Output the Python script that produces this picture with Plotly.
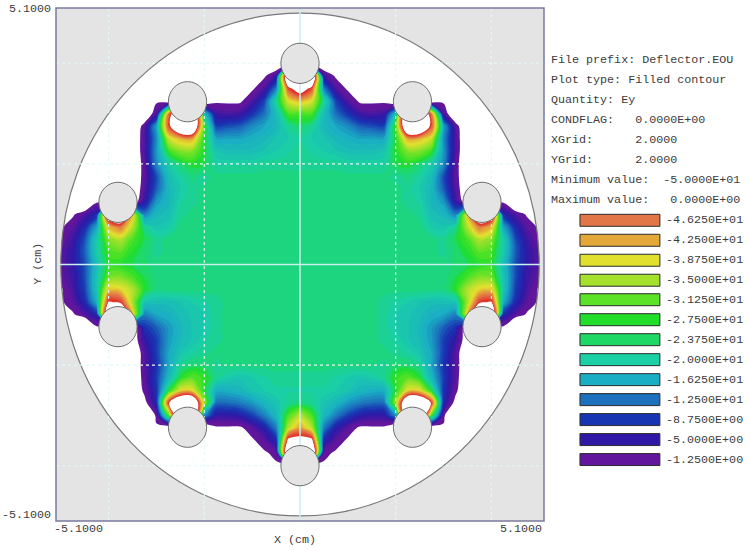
import plotly.graph_objects as go
import math

WIDTH, HEIGHT = 750, 550
LEFT, RIGHT, TOP, BOTTOM = 55.5, 544.0, 7.5, 521.0

# Ey field (V/cm) on a 0.25 cm mesh, sampled for x >= 0 and mirrored about x = 0.
x_half = [i * 0.25 for i in range(22)]
y_rows = [5.25 - i * 0.25 for i in range(43)]
W = [9] * 22
ey_upper = [
    W, W, W, W, W,
    [5, 5, 5] + [9] * 19,
    [-70, -70, -5, 0] + [9] * 18,
    [-60, -50, -14, -4, 0] + [9] * 17,
    [-42, -38, -24, -10, -4, 0, 0, 0, 5, 5, 5, 5, 0] + [9] * 9,
    [-30, -30, -20, -13, -9, -5, -4, -5, -20, -70, -70, -46, -4, 5] + [9] * 8,
    [-26, -24, -19, -17, -15, -12, -11, -10, -30, -70, -70, -50, -17, -3, 5] + [9] * 7,
    [-23, -22, -21, -19, -18, -17, -17, -17, -28, -43, -42, -37, -15, -4, 5] + [9] * 7,
    [-24, -23, -22, -21, -20, -20, -20, -21, -28, -33, -33, -29, -16, -4, 5] + [9] * 7,
    [-24, -24, -24, -24, -23, -23, -23, -23, -27, -28, -26, -22, -15, -3, 5] + [9] * 7,
    [-25] * 8 + [-24, -25, -23, -20, -11, -3, 5] + [9] * 7,
    [-25] * 9 + [-24, -22, -19, -12, -4, 5, 5, 5] + [9] * 5,
    [-25] * 9 + [-24, -23, -19, -16, -6, 3, 5, 5, 0] + [9] * 4,
    [-25] * 10 + [-24, -20, -19, -14, -40, -70, -60, -8, -4, 0, 9, 9],
    [-25] * 11 + [-22, -21, -24, -36, -47, -42, -17, -8, -3, 0, 9],
    [-25] * 12 + [-24, -27, -30, -36, -33, -22, -11, -5, -1.5, -1],
    [-25] * 12 + [-24, -26, -28, -31, -30, -22, -12, -6, -3, -2],
]
ey_axis = [-25] * 13 + [-26, -27, -28, -29, -20, -11, -6, -3, -2]
ey_lower = [
    [-25] * 13 + [-27, -30, -33, -32, -21, -11, -5, -2.5, -2],
    [-25] * 13 + [-28, -36, -40, -41, -21, -10, -4.5, 0, 9],
    [-25] * 7 + [-24, -23, -22, -21, -20, -20, -21, -35, -52, -54, -18, -8, -3, 0, 9],
    [-25] * 7 + [-24, -22, -21, -20, -18, -17, -14, -40, -70, -70, -8, -3.5, 0, 9, 9],
    [-25] * 7 + [-24, -22, -21, -19, -16, -12, -9, 3, 5, 5, 0] + [9] * 4,
    [-25] * 7 + [-24, -23, -21, -19.5, -16, -10, -6, 3, 5, 5] + [9] * 5,
    [-25] * 8 + [-24, -23, -21, -17, -10, -3.5, 5] + [9] * 7,
    [-25] * 7 + [-24, -26, -26, -24, -17, -9, -3.5, 5] + [9] * 7,
    [-24, -24, -24, -23, -22, -21, -22, -24, -29, -31, -28, -19, -10, -3, 5] + [9] * 7,
    [-23, -23, -23, -22, -21, -19, -18, -18, -28, -39, -39, -27, -9, -2, 5] + [9] * 7,
    [-25, -24, -21, -19, -16, -14, -13, -13, -35, -70, -70, -52, -8, 1] + [9] * 8,
    [-36, -30, -19, -14, -10, -7, -6, -6, -15, -70, -70, -30, -2] + [9] * 9,
    [-44, -36, -14, -7, -3, 0, 0, 0, 5, 5, 5, 5, 0] + [9] * 9,
    [-58, -56, -8, -3, 0] + [9] * 17,
    [-70, -70, -2, 0] + [9] * 18,
    [5, 5, 0] + [9] * 19,
    W, W, W, W, W,
]
ey_half = ey_upper + [ey_axis] + ey_lower

# Mirror the half mesh to cover the whole section.
x_full = [-v for v in x_half[:0:-1]] + x_half
ey_full = [row[:0:-1] + row for row in ey_half]

# Legend entries, one colour per listed level.
band_labels = ["-4.6250E+01", "-4.2500E+01", "-3.8750E+01", "-3.5000E+01", "-3.1250E+01",
               "-2.7500E+01", "-2.3750E+01", "-2.0000E+01", "-1.6250E+01", "-1.2500E+01",
               "-8.7500E+00", "-5.0000E+00", "-1.2500E+00"]
band_colors = ["#e27646", "#e4a838", "#e2e02e", "#a4e02c", "#5ce226", "#20de2a", "#1ed866",
               "#1ad0a4", "#1aaec4", "#1c70bc", "#1834b2", "#3018a6", "#62169c"]
red_edge = "#e2342a"

# The fill is drawn with three shades per listed band.
level_start, level_end, level_step = -53.25, -0.75, 1.25
anchor_colors = [red_edge] + band_colors
anchor_values = [-52, -47, -43, -39, -35, -31, -28, -26.5, -23, -17.5, -13, -9.5, -6, -2.5]


def rgb(h):
    return [int(h[i:i + 2], 16) for i in (1, 3, 5)]


def shade(v):
    if v <= anchor_values[0]:
        return anchor_colors[0]
    if v >= anchor_values[-1]:
        return anchor_colors[-1]
    i = 0
    while anchor_values[i + 1] < v:
        i += 1
    t = (v - anchor_values[i]) / (anchor_values[i + 1] - anchor_values[i])
    a_, b_ = rgb(anchor_colors[i]), rgb(anchor_colors[i + 1])
    return "rgb({},{},{})".format(*[round(p + (q - p) * t) for p, q in zip(a_, b_)])


n_levels = int(round((level_end - level_start) / level_step)) + 1
fill_colors = ["#ffffff"]
for i in range(n_levels - 1):
    fill_colors.append(shade(level_start + (i + 0.5) * level_step))
fill_colors.append("#ffffff")
colorscale = [[i / (len(fill_colors) - 1), c] for i, c in enumerate(fill_colors)]

# Electrode geometry (cm).
wall_radius = 5.0
rod_radius = 0.4
rod_ring = 4.0
rod_angles = [90, 54, 18, -18, -54, -90, -126, -162, 162, 126]
axis_limit = 5.1

info_lines = ["File prefix: Deflector.EOU", "Plot type: Filled contour", "Quantity: Ey",
              "CONDFLAG:   0.0000E+00", "XGrid:      2.0000", "YGrid:      2.0000",
              "Minimum value:  -5.0000E+01", "Maximum value:   0.0000E+00"]
info_rows = [60, 80, 100, 120, 140, 160, 180, 200]
swatch_rows = [220, 240, 260, 280, 299.5, 319.5, 339.5, 359.5, 379.5, 399.5, 419.5, 439.5, 459.5]

FONT = "Liberation Mono"
TEXT = "#3c3c3c"


def px(x):
    return (x - LEFT) / (RIGHT - LEFT)


def py(y):
    return (BOTTOM - y) / (BOTTOM - TOP)


fig = go.Figure(go.Contour(
    x=x_full, y=y_rows, z=ey_full,
    autocontour=False,
    contours=dict(start=level_start, end=level_end, size=level_step, coloring="fill", showlines=False),
    line=dict(width=0, smoothing=1.0),
    colorscale=colorscale,
    showscale=False,
    hoverinfo="skip",
))

# Grey surround outside the grounded wall.
k = 0.5523 * wall_radius
r = wall_radius
a = axis_limit
mask = (f"M{-a},{-a} L{a},{-a} L{a},{a} L{-a},{a} Z "
        f"M{r},0 C{r},{k} {k},{r} 0,{r} C{-k},{r} {-r},{k} {-r},0 "
        f"C{-r},{-k} {-k},{-r} 0,{-r} C{k},{-r} {r},{-k} {r},0 Z")
shapes = [dict(type="path", path=mask, xref="x", yref="y", fillcolor="#e4e4e4",
               line=dict(width=0), layer="above")]
shapes.append(dict(type="circle", xref="x", yref="y", x0=-r, x1=r, y0=-r, y1=r,
                   line=dict(color="#787878", width=1.2), layer="above"))

# Grid lines.
for g in [-4, -2, 2, 4]:
    shapes.append(dict(type="line", xref="x", yref="y", x0=g, x1=g, y0=-a, y1=a,
                       line=dict(color="#e4f8f8", width=1.1, dash="dot"), layer="above"))
    shapes.append(dict(type="line", xref="x", yref="y", x0=-a, x1=a, y0=g, y1=g,
                       line=dict(color="#e4f8f8", width=1.1, dash="dot"), layer="above"))
shapes.append(dict(type="line", xref="x", yref="y", x0=0, x1=0, y0=-a, y1=a,
                   line=dict(color="#c8f0ec", width=1.5), layer="above"))
shapes.append(dict(type="line", xref="x", yref="y", x0=-a, x1=a, y0=0, y1=0,
                   line=dict(color="#c8f0ec", width=1.5), layer="above"))

# Deflector rods.
for ang in rod_angles:
    cx = rod_ring * math.cos(math.radians(ang))
    cy = rod_ring * math.sin(math.radians(ang))
    shapes.append(dict(type="circle", xref="x", yref="y",
                       x0=cx - rod_radius, x1=cx + rod_radius,
                       y0=cy - rod_radius, y1=cy + rod_radius,
                       fillcolor="#e4e4e4", line=dict(color="#6e6e6e", width=1), layer="above"))

# Plot frame.
shapes.append(dict(type="rect", xref="paper", yref="paper", x0=0, x1=1, y0=0, y1=1,
                   line=dict(color="#7a7a9c", width=1.5), layer="above"))

annotations = []


def label(text, x, y, xanchor="left", angle=0):
    nudge = {"left": -2, "right": 2, "center": 0}[xanchor]
    annotations.append(dict(text=text, x=px(x + nudge), y=py(y), xref="paper", yref="paper",
                            xanchor=xanchor, yanchor="middle", showarrow=False, textangle=angle,
                            font=dict(family=FONT, size=11.7, color=TEXT)))


for line_text, row in zip(info_lines, info_rows):
    label(line_text.replace(" ", "\u00a0"), 551, row)

for lab, col, row in zip(band_labels, band_colors, swatch_rows):
    shapes.append(dict(type="rect", xref="paper", yref="paper",
                       x0=px(580), x1=px(660), y0=py(row - 6), y1=py(row + 6),
                       fillcolor=col, line=dict(color="#2c2c2c", width=1), layer="above"))
    label(lab, 666, row)

label("-5.1000", 53, 529)
label("5.1000", 542, 529, xanchor="right")
label("5.1000", 50, 9, xanchor="right")
label("-5.1000", 50, 515, xanchor="right")
label("X\u00a0(cm)", 295, 540, xanchor="center")
label("Y\u00a0(cm)", 38, 264, xanchor="center", angle=-90)

fig.update_layout(
    width=WIDTH, height=HEIGHT,
    margin=dict(l=LEFT, r=WIDTH - RIGHT, t=TOP, b=HEIGHT - BOTTOM, pad=0),
    paper_bgcolor="#ffffff", plot_bgcolor="#ffffff",
    xaxis=dict(range=[-a, a], visible=False, constrain="domain"),
    yaxis=dict(range=[-a, a], visible=False),
    shapes=shapes, annotations=annotations, showlegend=False,
)
fig.write_html("out.html")
